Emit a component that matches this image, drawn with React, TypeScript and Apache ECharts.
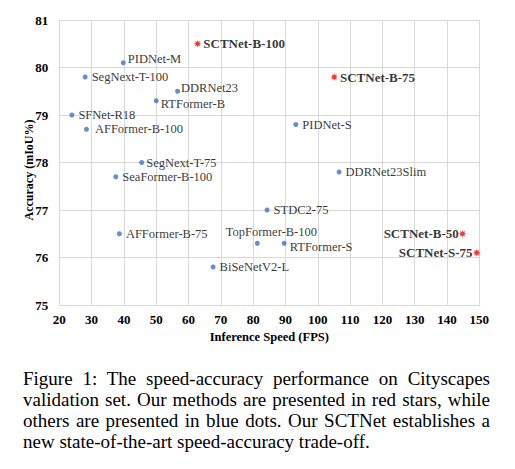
import React, { useEffect, useRef } from "react";
import * as echarts from "echarts";

// ---- data ----
const otherNames = [
  "PIDNet-M",
  "SegNext-T-100",
  "DDRNet23",
  "RTFormer-B",
  "SFNet-R18",
  "AFFormer-B-100",
  "SegNext-T-75",
  "SeaFormer-B-100",
  "AFFormer-B-75",
  "BiSeNetV2-L",
  "PIDNet-S",
  "DDRNet23Slim",
  "STDC2-75",
  "TopFormer-B-100",
  "RTFormer-S",
];
const otherFps = [39.8, 28.0, 56.6, 50.0, 23.9, 28.4, 45.5, 37.5, 38.6, 67.6, 93.2, 106.6, 84.3, 81.3, 89.6];
const otherMiou = [80.1, 79.8, 79.5, 79.3, 79.0, 78.7, 78.0, 77.7, 76.5, 75.8, 78.8, 77.8, 77.0, 76.3, 76.3];

const ourNames = ["SCTNet-B-100", "SCTNet-B-75", "SCTNet-B-50", "SCTNet-S-75"];
const ourFps = [62.8, 105.1, 144.8, 149.2];
const ourMiou = [80.5, 79.8, 76.5, 76.1];

const xTicks = { min: 20, max: 150, interval: 10 };
const yTicks = { min: 75, max: 81, interval: 1 };

const xAxisTitle = "Inference Speed (FPS)";
const yAxisTitle = "Accuracy (mIoU%)";
const captionText =
  "Figure 1: The speed-accuracy performance on Cityscapes validation set. Our methods are presented in red stars, while others are presented in blue dots. Our SCTNet establishes a new state-of-the-art speed-accuracy trade-off.";

// ---- label styling (placement nudges) ----
const labelNudge: Record<string, { position?: string; offset?: number[]; distance?: number }> = {
  "PIDNet-M": { offset: [-2, -4] },
  DDRNet23: { offset: [-3, -3] },
  "RTFormer-B": { offset: [-2, 3] },
  "AFFormer-B-100": { offset: [2, 0] },
  "SegNext-T-75": { offset: [-2, 0] },
  "TopFormer-B-100": { position: "top", offset: [14, 0], distance: 2 },
  "RTFormer-S": { offset: [-1, 4] },
  "SCTNet-B-100": { distance: 2 },
  "SCTNet-B-75": { distance: 2 },
  "SCTNet-B-50": { position: "left", distance: 0 },
  "SCTNet-S-75": { position: "left", distance: 0.5 },
};

const FONT = "Liberation Serif";

const starPath = (() => {
  const pts: string[] = [];
  for (let i = 0; i < 16; i++) {
    const a = (Math.PI * i) / 8 - Math.PI / 2;
    const r = i % 2 === 0 ? 10 : 5.2;
    pts.push(`${(r * Math.cos(a)).toFixed(2)},${(r * Math.sin(a)).toFixed(2)}`);
  }
  return "path://M" + pts.join("L") + "Z";
})();

function buildPoints(names: string[], xs: number[], ys: number[], bold: boolean) {
  return names.map((n, i) => {
    const nudge = labelNudge[n] || {};
    return {
      name: n,
      value: [xs[i], ys[i]],
      label: {
        show: true,
        formatter: n,
        position: nudge.position || "right",
        distance: nudge.distance ?? 4,
        offset: nudge.offset || [0, 0],
        fontFamily: FONT,
        fontSize: bold ? 13 : 12.5,
        fontWeight: bold ? "bold" : "normal",
        color: "#000",
      },
    };
  });
}

export default function App() {
  const ref = useRef<HTMLDivElement>(null);

  useEffect(() => {
    document.body.style.margin = "0";
    if (!ref.current) return;
    const chart = echarts.init(ref.current, undefined, { renderer: "svg" });
    const gridColor = "#d9d9d9";
    chart.setOption({
      animation: false,
      backgroundColor: "#fff",
      textStyle: { fontFamily: FONT },
      grid: { left: 59.3, right: 35.7, top: 20, bottom: 45 },
      xAxis: {
        type: "value",
        min: xTicks.min,
        max: xTicks.max,
        interval: xTicks.interval,
        name: xAxisTitle,
        nameLocation: "middle",
        nameGap: 19,
        nameTextStyle: { fontFamily: FONT, fontSize: 12.5, fontWeight: "bold", color: "#000", padding: [0, 0, 0, 0] },
        axisLine: { show: true, lineStyle: { color: gridColor, width: 1 } },
        axisTick: { show: false },
        axisLabel: { fontFamily: FONT, fontSize: 13, fontWeight: "bold", color: "#000", margin: 8 },
        splitLine: { show: true, lineStyle: { color: gridColor, width: 1 } },
      },
      yAxis: {
        type: "value",
        min: yTicks.min,
        max: yTicks.max,
        interval: yTicks.interval,
        axisLine: { show: true, lineStyle: { color: gridColor, width: 1 } },
        axisTick: { show: false },
        axisLabel: { fontFamily: FONT, fontSize: 13, fontWeight: "bold", color: "#000", margin: 11 },
        splitLine: { show: true, lineStyle: { color: gridColor, width: 1 } },
      },
      graphic: [
        {
          type: "text",
          x: 28.5,
          y: 170,
          rotation: Math.PI / 2,
          style: {
            text: yAxisTitle,
            fontFamily: FONT,
            fontSize: 12,
            fontWeight: "bold",
            fill: "#000",
            align: "center",
            verticalAlign: "middle",
          },
        },
      ],
      series: [
        {
          type: "scatter",
          symbol: "circle",
          symbolSize: 5,
          itemStyle: { color: "#4472C4" },
          data: buildPoints(otherNames, otherFps, otherMiou, false),
          z: 2,
        },
        {
          type: "scatter",
          symbol: starPath,
          symbolSize: 7.5,
          itemStyle: { color: "#FF0000" },
          data: buildPoints(ourNames, ourFps, ourMiou, true),
          z: 3,
        },
      ],
    });
    return () => chart.dispose();
  }, []);

  return (
    <div style={{ position: "relative", width: 515, height: 469, background: "#fff", overflow: "hidden" }}>
      <div ref={ref} style={{ position: "absolute", left: 0, top: 0, width: 515, height: 350 }} />
      <div
        style={{
          position: "absolute",
          left: 23,
          top: 367.5,
          width: 467,
          fontFamily: "'Liberation Serif', 'Times New Roman', serif",
          fontSize: 19,
          lineHeight: "21.3px",
          textAlign: "justify",
          color: "#000",
        }}
      >
        {captionText}
      </div>
    </div>
  );
}
